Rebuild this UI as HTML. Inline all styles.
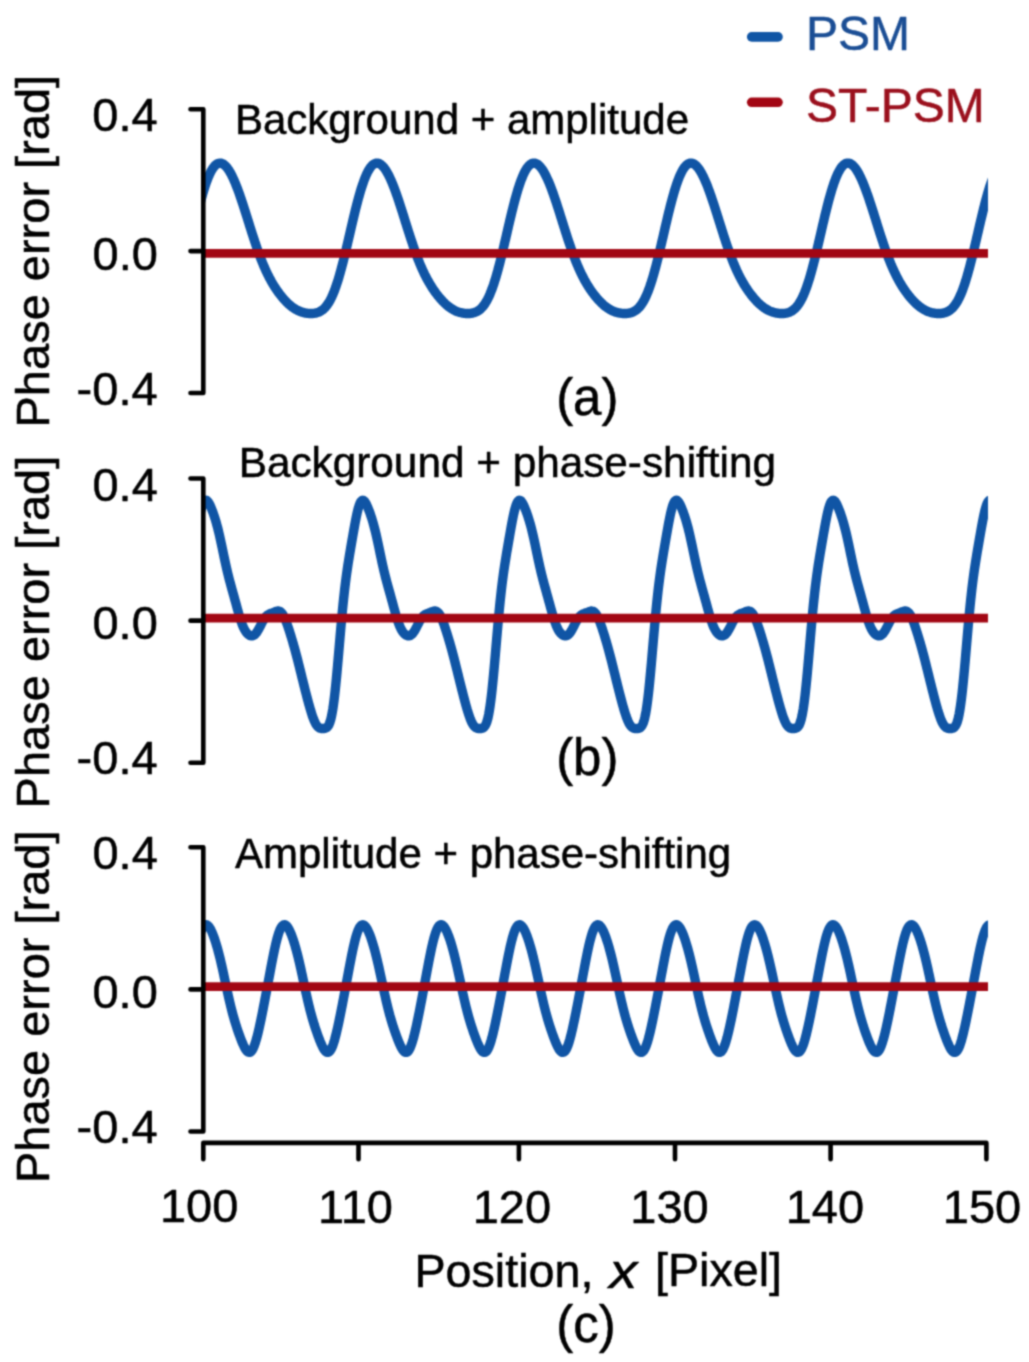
<!DOCTYPE html>
<html><head><meta charset="utf-8"><title>Phase error plot</title><style>
html,body{margin:0;padding:0;background:#fff;}
svg{display:block;}

text{font-family:'Liberation Sans',Arial,Helvetica,sans-serif;fill:#000;stroke:#000;stroke-width:0.5px;stroke-linejoin:round;}
</style></head><body>
<svg width="1029" height="1362" viewBox="0 0 1029 1362">
<rect width="1029" height="1362" fill="#fff"/>
<defs><clipPath id="clip"><rect x="203.3" y="0" width="784.7" height="1362"/></clipPath><filter id="soft" x="0" y="0" width="1029" height="1362" filterUnits="userSpaceOnUse" color-interpolation-filters="sRGB"><feConvolveMatrix order="5" kernelMatrix="0.00023 0.00332 0.00809 0.00332 0.00023 0.00332 0.04785 0.11640 0.04785 0.00332 0.00809 0.11640 0.28313 0.11640 0.00809 0.00332 0.04785 0.11640 0.04785 0.00332 0.00023 0.00332 0.00809 0.00332 0.00023" divisor="1" edgeMode="duplicate"/></filter></defs>
<g filter="url(#soft)">
<line x1="751.7" y1="36.9" x2="778" y2="36.9" stroke="#1055a5" stroke-width="9.6" stroke-linecap="round"/>
<line x1="751.7" y1="102.3" x2="778" y2="102.3" stroke="#a20613" stroke-width="9.6" stroke-linecap="round"/>
<path d="M196.0,220.1 L196.6,217.6 L197.2,215.1 L197.8,212.6 L198.4,210.2 L199.0,207.8 L199.6,205.4 L200.2,203.1 L200.8,200.8 L201.4,198.6 L202.0,196.4 L202.6,194.3 L203.2,192.2 L203.8,190.2 L204.4,188.3 L205.0,186.4 L205.6,184.6 L206.2,182.8 L206.8,181.1 L207.4,179.5 L208.0,178.0 L208.6,176.5 L209.2,175.2 L209.8,173.8 L210.4,172.6 L211.0,171.4 L211.6,170.4 L212.2,169.3 L212.8,168.4 L213.4,167.6 L214.0,166.8 L214.6,166.1 L215.2,165.4 L215.8,164.9 L216.4,164.4 L217.0,164.0 L217.6,163.7 L218.2,163.4 L218.8,163.3 L219.4,163.1 L220.0,163.1 L220.6,163.1 L221.2,163.2 L221.8,163.4 L222.4,163.7 L223.0,164.0 L223.6,164.3 L224.2,164.8 L224.8,165.3 L225.4,165.8 L226.0,166.5 L226.6,167.1 L227.2,167.9 L227.8,168.7 L228.4,169.5 L229.0,170.5 L229.6,171.4 L230.2,172.5 L230.8,173.5 L231.4,174.7 L232.0,175.9 L232.6,177.1 L233.2,178.4 L233.8,179.7 L234.4,181.1 L235.0,182.5 L235.6,183.9 L236.2,185.4 L236.8,187.0 L237.4,188.5 L238.0,190.1 L238.6,191.8 L239.2,193.4 L239.8,195.1 L240.4,196.9 L241.0,198.6 L241.6,200.4 L242.2,202.2 L242.8,204.0 L243.4,205.9 L244.0,207.7 L244.6,209.6 L245.2,211.5 L245.8,213.4 L246.4,215.3 L247.0,217.2 L247.6,219.1 L248.2,221.0 L248.8,222.9 L249.4,224.9 L250.0,226.8 L250.6,228.7 L251.2,230.6 L251.8,232.4 L252.4,234.3 L253.0,236.2 L253.6,238.0 L254.2,239.8 L254.8,241.7 L255.4,243.4 L256.0,245.2 L256.6,247.0 L257.2,248.7 L257.8,250.4 L258.4,252.1 L259.0,253.7 L259.6,255.3 L260.2,256.9 L260.8,258.5 L261.4,260.0 L262.0,261.5 L262.6,263.0 L263.2,264.4 L263.8,265.9 L264.4,267.3 L265.0,268.6 L265.6,270.0 L266.2,271.3 L266.8,272.5 L267.4,273.8 L268.0,275.0 L268.6,276.2 L269.2,277.4 L269.8,278.5 L270.4,279.6 L271.0,280.7 L271.6,281.8 L272.2,282.8 L272.8,283.8 L273.4,284.8 L274.0,285.8 L274.6,286.8 L275.2,287.7 L275.8,288.6 L276.4,289.5 L277.0,290.4 L277.6,291.2 L278.2,292.1 L278.8,292.9 L279.4,293.7 L280.0,294.5 L280.6,295.3 L281.2,296.0 L281.8,296.8 L282.4,297.5 L283.0,298.2 L283.6,298.9 L284.2,299.5 L284.8,300.2 L285.4,300.8 L286.0,301.5 L286.6,302.1 L287.2,302.7 L287.8,303.3 L288.4,303.8 L289.0,304.4 L289.6,304.9 L290.2,305.4 L290.8,305.9 L291.4,306.4 L292.0,306.8 L292.6,307.3 L293.2,307.7 L293.8,308.1 L294.4,308.5 L295.0,308.9 L295.6,309.3 L296.2,309.6 L296.8,309.9 L297.4,310.2 L298.0,310.5 L298.6,310.8 L299.2,311.1 L299.8,311.3 L300.4,311.6 L301.0,311.8 L301.6,312.0 L302.2,312.2 L302.8,312.4 L303.4,312.5 L304.0,312.7 L304.6,312.8 L305.2,313.0 L305.8,313.1 L306.4,313.2 L307.0,313.3 L307.6,313.3 L308.2,313.4 L308.8,313.4 L309.4,313.5 L310.0,313.5 L310.6,313.5 L311.2,313.5 L311.8,313.5 L312.4,313.5 L313.0,313.4 L313.6,313.4 L314.2,313.3 L314.8,313.2 L315.4,313.1 L316.0,313.0 L316.6,312.8 L317.2,312.6 L317.8,312.4 L318.4,312.2 L319.0,312.0 L319.6,311.7 L320.2,311.4 L320.8,311.0 L321.4,310.6 L322.0,310.2 L322.6,309.8 L323.2,309.3 L323.8,308.8 L324.4,308.2 L325.0,307.6 L325.6,306.9 L326.2,306.2 L326.8,305.4 L327.4,304.6 L328.0,303.7 L328.6,302.8 L329.2,301.8 L329.8,300.8 L330.4,299.7 L331.0,298.5 L331.6,297.3 L332.2,296.0 L332.8,294.6 L333.4,293.2 L334.0,291.7 L334.6,290.2 L335.2,288.5 L335.8,286.9 L336.4,285.1 L337.0,283.3 L337.6,281.5 L338.2,279.6 L338.8,277.6 L339.4,275.5 L340.0,273.4 L340.6,271.3 L341.2,269.1 L341.8,266.8 L342.4,264.5 L343.0,262.2 L343.6,259.8 L344.2,257.4 L344.8,255.0 L345.4,252.5 L346.0,250.0 L346.6,247.4 L347.2,244.9 L347.8,242.3 L348.4,239.7 L349.0,237.2 L349.6,234.6 L350.2,232.0 L350.8,229.4 L351.4,226.8 L352.0,224.2 L352.6,221.7 L353.2,219.1 L353.8,216.6 L354.4,214.1 L355.0,211.7 L355.6,209.2 L356.2,206.8 L356.8,204.5 L357.4,202.2 L358.0,199.9 L358.6,197.7 L359.2,195.6 L359.8,193.5 L360.4,191.4 L361.0,189.4 L361.6,187.5 L362.2,185.7 L362.8,183.9 L363.4,182.2 L364.0,180.5 L364.6,178.9 L365.2,177.4 L365.8,176.0 L366.4,174.6 L367.0,173.4 L367.6,172.1 L368.2,171.0 L368.8,170.0 L369.4,169.0 L370.0,168.1 L370.6,167.2 L371.2,166.5 L371.8,165.8 L372.4,165.2 L373.0,164.7 L373.6,164.3 L374.2,163.9 L374.8,163.6 L375.4,163.4 L376.0,163.2 L376.6,163.1 L377.2,163.1 L377.8,163.2 L378.4,163.3 L379.0,163.5 L379.6,163.8 L380.2,164.1 L380.8,164.5 L381.4,165.0 L382.0,165.5 L382.6,166.1 L383.2,166.7 L383.8,167.4 L384.4,168.2 L385.0,169.0 L385.6,169.9 L386.2,170.8 L386.8,171.8 L387.4,172.9 L388.0,174.0 L388.6,175.1 L389.2,176.3 L389.8,177.6 L390.4,178.9 L391.0,180.2 L391.6,181.6 L392.2,183.0 L392.8,184.5 L393.4,186.0 L394.0,187.5 L394.6,189.1 L395.2,190.8 L395.8,192.4 L396.4,194.1 L397.0,195.8 L397.6,197.5 L398.2,199.3 L398.8,201.1 L399.4,202.9 L400.0,204.7 L400.6,206.6 L401.2,208.4 L401.8,210.3 L402.4,212.2 L403.0,214.1 L403.6,216.0 L404.2,217.9 L404.8,219.8 L405.4,221.8 L406.0,223.7 L406.6,225.6 L407.2,227.5 L407.8,229.4 L408.4,231.3 L409.0,233.2 L409.6,235.0 L410.2,236.9 L410.8,238.7 L411.4,240.5 L412.0,242.3 L412.6,244.1 L413.2,245.9 L413.8,247.6 L414.4,249.3 L415.0,251.0 L415.6,252.7 L416.2,254.3 L416.8,255.9 L417.4,257.5 L418.0,259.1 L418.6,260.6 L419.2,262.1 L419.8,263.6 L420.4,265.0 L421.0,266.4 L421.6,267.8 L422.2,269.1 L422.8,270.5 L423.4,271.7 L424.0,273.0 L424.6,274.3 L425.2,275.5 L425.8,276.6 L426.4,277.8 L427.0,278.9 L427.6,280.0 L428.2,281.1 L428.8,282.2 L429.4,283.2 L430.0,284.2 L430.6,285.2 L431.2,286.2 L431.8,287.1 L432.4,288.0 L433.0,289.0 L433.6,289.8 L434.2,290.7 L434.8,291.6 L435.4,292.4 L436.0,293.2 L436.6,294.0 L437.2,294.8 L437.8,295.6 L438.4,296.3 L439.0,297.0 L439.6,297.7 L440.2,298.4 L440.8,299.1 L441.4,299.8 L442.0,300.4 L442.6,301.1 L443.2,301.7 L443.8,302.3 L444.4,302.9 L445.0,303.5 L445.6,304.0 L446.2,304.6 L446.8,305.1 L447.4,305.6 L448.0,306.1 L448.6,306.6 L449.2,307.0 L449.8,307.4 L450.4,307.9 L451.0,308.3 L451.6,308.7 L452.2,309.0 L452.8,309.4 L453.4,309.7 L454.0,310.1 L454.6,310.4 L455.2,310.7 L455.8,310.9 L456.4,311.2 L457.0,311.4 L457.6,311.7 L458.2,311.9 L458.8,312.1 L459.4,312.3 L460.0,312.4 L460.6,312.6 L461.2,312.7 L461.8,312.9 L462.4,313.0 L463.0,313.1 L463.6,313.2 L464.2,313.3 L464.8,313.4 L465.4,313.4 L466.0,313.5 L466.6,313.5 L467.2,313.5 L467.8,313.5 L468.4,313.5 L469.0,313.5 L469.6,313.5 L470.2,313.4 L470.8,313.3 L471.4,313.3 L472.0,313.2 L472.6,313.0 L473.2,312.9 L473.8,312.7 L474.4,312.6 L475.0,312.3 L475.6,312.1 L476.2,311.9 L476.8,311.6 L477.4,311.2 L478.0,310.9 L478.6,310.5 L479.2,310.1 L479.8,309.6 L480.4,309.1 L481.0,308.5 L481.6,308.0 L482.2,307.3 L482.8,306.6 L483.4,305.9 L484.0,305.1 L484.6,304.3 L485.2,303.4 L485.8,302.4 L486.4,301.4 L487.0,300.3 L487.6,299.2 L488.2,298.0 L488.8,296.8 L489.4,295.5 L490.0,294.1 L490.6,292.6 L491.2,291.1 L491.8,289.6 L492.4,287.9 L493.0,286.2 L493.6,284.5 L494.2,282.6 L494.8,280.7 L495.4,278.8 L496.0,276.8 L496.6,274.7 L497.2,272.6 L497.8,270.5 L498.4,268.2 L499.0,266.0 L499.6,263.7 L500.2,261.3 L500.8,258.9 L501.4,256.5 L502.0,254.0 L502.6,251.5 L503.2,249.0 L503.8,246.5 L504.4,243.9 L505.0,241.3 L505.6,238.8 L506.2,236.2 L506.8,233.6 L507.4,231.0 L508.0,228.4 L508.6,225.8 L509.2,223.2 L509.8,220.7 L510.4,218.2 L511.0,215.6 L511.6,213.2 L512.2,210.7 L512.8,208.3 L513.4,205.9 L514.0,203.6 L514.6,201.3 L515.2,199.1 L515.8,196.9 L516.4,194.8 L517.0,192.7 L517.6,190.7 L518.2,188.7 L518.8,186.8 L519.4,185.0 L520.0,183.2 L520.6,181.5 L521.2,179.9 L521.8,178.4 L522.4,176.9 L523.0,175.5 L523.6,174.1 L524.2,172.9 L524.8,171.7 L525.4,170.6 L526.0,169.6 L526.6,168.6 L527.2,167.7 L527.8,167.0 L528.4,166.2 L529.0,165.6 L529.6,165.0 L530.2,164.5 L530.8,164.1 L531.4,163.8 L532.0,163.5 L532.6,163.3 L533.2,163.2 L533.8,163.1 L534.4,163.1 L535.0,163.2 L535.6,163.4 L536.2,163.6 L536.8,163.9 L537.4,164.2 L538.0,164.7 L538.6,165.1 L539.2,165.7 L539.8,166.3 L540.4,167.0 L541.0,167.7 L541.6,168.5 L542.2,169.3 L542.8,170.2 L543.4,171.2 L544.0,172.2 L544.6,173.3 L545.2,174.4 L545.8,175.6 L546.4,176.8 L547.0,178.1 L547.6,179.4 L548.2,180.7 L548.8,182.1 L549.4,183.6 L550.0,185.1 L550.6,186.6 L551.2,188.2 L551.8,189.7 L552.4,191.4 L553.0,193.0 L553.6,194.7 L554.2,196.5 L554.8,198.2 L555.4,200.0 L556.0,201.8 L556.6,203.6 L557.2,205.4 L557.8,207.3 L558.4,209.2 L559.0,211.0 L559.6,212.9 L560.2,214.8 L560.8,216.8 L561.4,218.7 L562.0,220.6 L562.6,222.5 L563.2,224.4 L563.8,226.3 L564.4,228.2 L565.0,230.1 L565.6,232.0 L566.2,233.9 L566.8,235.7 L567.4,237.6 L568.0,239.4 L568.6,241.2 L569.2,243.0 L569.8,244.8 L570.4,246.6 L571.0,248.3 L571.6,250.0 L572.2,251.7 L572.8,253.3 L573.4,254.9 L574.0,256.5 L574.6,258.1 L575.2,259.7 L575.8,261.2 L576.4,262.7 L577.0,264.1 L577.6,265.5 L578.2,266.9 L578.8,268.3 L579.4,269.6 L580.0,271.0 L580.6,272.2 L581.2,273.5 L581.8,274.7 L582.4,275.9 L583.0,277.1 L583.6,278.2 L584.2,279.4 L584.8,280.5 L585.4,281.5 L586.0,282.6 L586.6,283.6 L587.2,284.6 L587.8,285.6 L588.4,286.5 L589.0,287.5 L589.6,288.4 L590.2,289.3 L590.8,290.2 L591.4,291.0 L592.0,291.9 L592.6,292.7 L593.2,293.5 L593.8,294.3 L594.4,295.1 L595.0,295.8 L595.6,296.6 L596.2,297.3 L596.8,298.0 L597.4,298.7 L598.0,299.4 L598.6,300.0 L599.2,300.7 L599.8,301.3 L600.4,301.9 L601.0,302.5 L601.6,303.1 L602.2,303.7 L602.8,304.2 L603.4,304.8 L604.0,305.3 L604.6,305.8 L605.2,306.3 L605.8,306.7 L606.4,307.2 L607.0,307.6 L607.6,308.0 L608.2,308.4 L608.8,308.8 L609.4,309.2 L610.0,309.5 L610.6,309.9 L611.2,310.2 L611.8,310.5 L612.4,310.8 L613.0,311.0 L613.6,311.3 L614.2,311.5 L614.8,311.7 L615.4,312.0 L616.0,312.2 L616.6,312.3 L617.2,312.5 L617.8,312.7 L618.4,312.8 L619.0,312.9 L619.6,313.0 L620.2,313.1 L620.8,313.2 L621.4,313.3 L622.0,313.4 L622.6,313.4 L623.2,313.5 L623.8,313.5 L624.4,313.5 L625.0,313.5 L625.6,313.5 L626.2,313.5 L626.8,313.4 L627.4,313.4 L628.0,313.3 L628.6,313.2 L629.2,313.1 L629.8,313.0 L630.4,312.8 L631.0,312.7 L631.6,312.5 L632.2,312.3 L632.8,312.0 L633.4,311.7 L634.0,311.4 L634.6,311.1 L635.2,310.7 L635.8,310.3 L636.4,309.9 L637.0,309.4 L637.6,308.9 L638.2,308.3 L638.8,307.7 L639.4,307.1 L640.0,306.4 L640.6,305.6 L641.2,304.8 L641.8,303.9 L642.4,303.0 L643.0,302.0 L643.6,301.0 L644.2,299.9 L644.8,298.8 L645.4,297.6 L646.0,296.3 L646.6,294.9 L647.2,293.5 L647.8,292.1 L648.4,290.5 L649.0,288.9 L649.6,287.3 L650.2,285.5 L650.8,283.8 L651.4,281.9 L652.0,280.0 L652.6,278.0 L653.2,276.0 L653.8,273.9 L654.4,271.8 L655.0,269.6 L655.6,267.4 L656.2,265.1 L656.8,262.8 L657.4,260.4 L658.0,258.0 L658.6,255.5 L659.2,253.1 L659.8,250.6 L660.4,248.0 L661.0,245.5 L661.6,242.9 L662.2,240.3 L662.8,237.8 L663.4,235.2 L664.0,232.6 L664.6,230.0 L665.2,227.4 L665.8,224.8 L666.4,222.3 L667.0,219.7 L667.6,217.2 L668.2,214.7 L668.8,212.2 L669.4,209.8 L670.0,207.4 L670.6,205.0 L671.2,202.7 L671.8,200.5 L672.4,198.2 L673.0,196.1 L673.6,194.0 L674.2,191.9 L674.8,189.9 L675.4,188.0 L676.0,186.1 L676.6,184.3 L677.2,182.6 L677.8,180.9 L678.4,179.3 L679.0,177.8 L679.6,176.3 L680.2,175.0 L680.8,173.7 L681.4,172.4 L682.0,171.3 L682.6,170.2 L683.2,169.2 L683.8,168.3 L684.4,167.4 L685.0,166.7 L685.6,166.0 L686.2,165.4 L686.8,164.8 L687.4,164.4 L688.0,164.0 L688.6,163.6 L689.2,163.4 L689.8,163.2 L690.4,163.1 L691.0,163.1 L691.6,163.2 L692.2,163.3 L692.8,163.4 L693.4,163.7 L694.0,164.0 L694.6,164.4 L695.2,164.8 L695.8,165.3 L696.4,165.9 L697.0,166.6 L697.6,167.2 L698.2,168.0 L698.8,168.8 L699.4,169.7 L700.0,170.6 L700.6,171.6 L701.2,172.6 L701.8,173.7 L702.4,174.9 L703.0,176.0 L703.6,177.3 L704.2,178.6 L704.8,179.9 L705.4,181.3 L706.0,182.7 L706.6,184.1 L707.2,185.6 L707.8,187.2 L708.4,188.8 L709.0,190.4 L709.6,192.0 L710.2,193.7 L710.8,195.4 L711.4,197.1 L712.0,198.9 L712.6,200.7 L713.2,202.5 L713.8,204.3 L714.4,206.2 L715.0,208.0 L715.6,209.9 L716.2,211.8 L716.8,213.7 L717.4,215.6 L718.0,217.5 L718.6,219.4 L719.2,221.3 L719.8,223.2 L720.4,225.1 L721.0,227.0 L721.6,228.9 L722.2,230.8 L722.8,232.7 L723.4,234.6 L724.0,236.5 L724.6,238.3 L725.2,240.1 L725.8,241.9 L726.4,243.7 L727.0,245.5 L727.6,247.2 L728.2,248.9 L728.8,250.6 L729.4,252.3 L730.0,253.9 L730.6,255.6 L731.2,257.1 L731.8,258.7 L732.4,260.2 L733.0,261.7 L733.6,263.2 L734.2,264.7 L734.8,266.1 L735.4,267.5 L736.0,268.8 L736.6,270.2 L737.2,271.5 L737.8,272.7 L738.4,274.0 L739.0,275.2 L739.6,276.4 L740.2,277.5 L740.8,278.7 L741.4,279.8 L742.0,280.9 L742.6,281.9 L743.2,283.0 L743.8,284.0 L744.4,285.0 L745.0,286.0 L745.6,286.9 L746.2,287.8 L746.8,288.7 L747.4,289.6 L748.0,290.5 L748.6,291.4 L749.2,292.2 L749.8,293.0 L750.4,293.8 L751.0,294.6 L751.6,295.4 L752.2,296.1 L752.8,296.9 L753.4,297.6 L754.0,298.3 L754.6,299.0 L755.2,299.6 L755.8,300.3 L756.4,300.9 L757.0,301.6 L757.6,302.2 L758.2,302.8 L758.8,303.3 L759.4,303.9 L760.0,304.4 L760.6,305.0 L761.2,305.5 L761.8,306.0 L762.4,306.4 L763.0,306.9 L763.6,307.3 L764.2,307.8 L764.8,308.2 L765.4,308.6 L766.0,309.0 L766.6,309.3 L767.2,309.7 L767.8,310.0 L768.4,310.3 L769.0,310.6 L769.6,310.9 L770.2,311.1 L770.8,311.4 L771.4,311.6 L772.0,311.8 L772.6,312.0 L773.2,312.2 L773.8,312.4 L774.4,312.6 L775.0,312.7 L775.6,312.8 L776.2,313.0 L776.8,313.1 L777.4,313.2 L778.0,313.3 L778.6,313.3 L779.2,313.4 L779.8,313.5 L780.4,313.5 L781.0,313.5 L781.6,313.5 L782.2,313.5 L782.8,313.5 L783.4,313.5 L784.0,313.4 L784.6,313.4 L785.2,313.3 L785.8,313.2 L786.4,313.1 L787.0,312.9 L787.6,312.8 L788.2,312.6 L788.8,312.4 L789.4,312.2 L790.0,311.9 L790.6,311.6 L791.2,311.3 L791.8,311.0 L792.4,310.6 L793.0,310.2 L793.6,309.7 L794.2,309.2 L794.8,308.7 L795.4,308.1 L796.0,307.5 L796.6,306.8 L797.2,306.1 L797.8,305.3 L798.4,304.5 L799.0,303.6 L799.6,302.7 L800.2,301.7 L800.8,300.6 L801.4,299.5 L802.0,298.3 L802.6,297.1 L803.2,295.8 L803.8,294.4 L804.4,293.0 L805.0,291.5 L805.6,289.9 L806.2,288.3 L806.8,286.6 L807.4,284.9 L808.0,283.1 L808.6,281.2 L809.2,279.3 L809.8,277.3 L810.4,275.2 L811.0,273.1 L811.6,271.0 L812.2,268.8 L812.8,266.5 L813.4,264.2 L814.0,261.9 L814.6,259.5 L815.2,257.1 L815.8,254.6 L816.4,252.1 L817.0,249.6 L817.6,247.1 L818.2,244.5 L818.8,241.9 L819.4,239.4 L820.0,236.8 L820.6,234.2 L821.2,231.6 L821.8,229.0 L822.4,226.4 L823.0,223.8 L823.6,221.3 L824.2,218.7 L824.8,216.2 L825.4,213.7 L826.0,211.3 L826.6,208.9 L827.2,206.5 L827.8,204.1 L828.4,201.8 L829.0,199.6 L829.6,197.4 L830.2,195.3 L830.8,193.2 L831.4,191.1 L832.0,189.2 L832.6,187.2 L833.2,185.4 L833.8,183.6 L834.4,181.9 L835.0,180.3 L835.6,178.7 L836.2,177.2 L836.8,175.8 L837.4,174.4 L838.0,173.2 L838.6,172.0 L839.2,170.9 L839.8,169.8 L840.4,168.8 L841.0,167.9 L841.6,167.1 L842.2,166.4 L842.8,165.7 L843.4,165.1 L844.0,164.6 L844.6,164.2 L845.2,163.8 L845.8,163.5 L846.4,163.3 L847.0,163.2 L847.6,163.1 L848.2,163.1 L848.8,163.2 L849.4,163.3 L850.0,163.5 L850.6,163.8 L851.2,164.1 L851.8,164.6 L852.4,165.0 L853.0,165.6 L853.6,166.2 L854.2,166.8 L854.8,167.5 L855.4,168.3 L856.0,169.1 L856.6,170.0 L857.2,171.0 L857.8,172.0 L858.4,173.0 L859.0,174.1 L859.6,175.3 L860.2,176.5 L860.8,177.8 L861.4,179.1 L862.0,180.4 L862.6,181.8 L863.2,183.2 L863.8,184.7 L864.4,186.2 L865.0,187.8 L865.6,189.4 L866.2,191.0 L866.8,192.7 L867.4,194.3 L868.0,196.1 L868.6,197.8 L869.2,199.6 L869.8,201.4 L870.4,203.2 L871.0,205.0 L871.6,206.9 L872.2,208.7 L872.8,210.6 L873.4,212.5 L874.0,214.4 L874.6,216.3 L875.2,218.2 L875.8,220.1 L876.4,222.0 L877.0,224.0 L877.6,225.9 L878.2,227.8 L878.8,229.7 L879.4,231.6 L880.0,233.4 L880.6,235.3 L881.2,237.2 L881.8,239.0 L882.4,240.8 L883.0,242.6 L883.6,244.4 L884.2,246.1 L884.8,247.9 L885.4,249.6 L886.0,251.3 L886.6,252.9 L887.2,254.6 L887.8,256.2 L888.4,257.8 L889.0,259.3 L889.6,260.8 L890.2,262.3 L890.8,263.8 L891.4,265.2 L892.0,266.6 L892.6,268.0 L893.2,269.3 L893.8,270.7 L894.4,271.9 L895.0,273.2 L895.6,274.4 L896.2,275.6 L896.8,276.8 L897.4,278.0 L898.0,279.1 L898.6,280.2 L899.2,281.3 L899.8,282.3 L900.4,283.4 L901.0,284.4 L901.6,285.4 L902.2,286.3 L902.8,287.3 L903.4,288.2 L904.0,289.1 L904.6,290.0 L905.2,290.8 L905.8,291.7 L906.4,292.5 L907.0,293.3 L907.6,294.1 L908.2,294.9 L908.8,295.7 L909.4,296.4 L910.0,297.1 L910.6,297.9 L911.2,298.5 L911.8,299.2 L912.4,299.9 L913.0,300.5 L913.6,301.2 L914.2,301.8 L914.8,302.4 L915.4,303.0 L916.0,303.6 L916.6,304.1 L917.2,304.6 L917.8,305.2 L918.4,305.7 L919.0,306.2 L919.6,306.6 L920.2,307.1 L920.8,307.5 L921.4,307.9 L922.0,308.3 L922.6,308.7 L923.2,309.1 L923.8,309.4 L924.4,309.8 L925.0,310.1 L925.6,310.4 L926.2,310.7 L926.8,311.0 L927.4,311.2 L928.0,311.5 L928.6,311.7 L929.2,311.9 L929.8,312.1 L930.4,312.3 L931.0,312.5 L931.6,312.6 L932.2,312.8 L932.8,312.9 L933.4,313.0 L934.0,313.1 L934.6,313.2 L935.2,313.3 L935.8,313.4 L936.4,313.4 L937.0,313.5 L937.6,313.5 L938.2,313.5 L938.8,313.5 L939.4,313.5 L940.0,313.5 L940.6,313.5 L941.2,313.4 L941.8,313.3 L942.4,313.3 L943.0,313.1 L943.6,313.0 L944.2,312.9 L944.8,312.7 L945.4,312.5 L946.0,312.3 L946.6,312.1 L947.2,311.8 L947.8,311.5 L948.4,311.2 L949.0,310.8 L949.6,310.4 L950.2,310.0 L950.8,309.5 L951.4,309.0 L952.0,308.5 L952.6,307.9 L953.2,307.2 L953.8,306.5 L954.4,305.8 L955.0,305.0 L955.6,304.1 L956.2,303.2 L956.8,302.3 L957.4,301.3 L958.0,300.2 L958.6,299.0 L959.2,297.8 L959.8,296.6 L960.4,295.3 L961.0,293.9 L961.6,292.4 L962.2,290.9 L962.8,289.3 L963.4,287.7 L964.0,286.0 L964.6,284.2 L965.2,282.3 L965.8,280.5 L966.4,278.5 L967.0,276.5 L967.6,274.4 L968.2,272.3 L968.8,270.1 L969.4,267.9 L970.0,265.6 L970.6,263.3 L971.2,260.9 L971.8,258.5 L972.4,256.1 L973.0,253.6 L973.6,251.2 L974.2,248.6 L974.8,246.1 L975.4,243.5 L976.0,241.0 L976.6,238.4 L977.2,235.8 L977.8,233.2 L978.4,230.6 L979.0,228.0 L979.6,225.4 L980.2,222.9 L980.8,220.3 L981.4,217.8 L982.0,215.3 L982.6,212.8 L983.2,210.4 L983.8,207.9 L984.4,205.6 L985.0,203.3 L985.6,201.0 L986.2,198.7 L986.8,196.6 L987.4,194.4 L988.0,192.4 L988.6,190.4 L989.2,188.4 L989.8,186.5 L990.4,184.7 L991.0,183.0 L991.6,181.3 L992.2,179.7 L992.8,178.1 L993.4,176.7 L994.0,175.3 L994.6,173.9 L995.2,172.7 L995.8,171.5 L996.0,171.2" fill="none" stroke="#1055a5" stroke-width="9.4" stroke-linejoin="round" clip-path="url(#clip)"/>
<line x1="203.3" y1="253.3" x2="988" y2="253.3" stroke="#a20613" stroke-width="8.8"/>
<path d="M190.5,109.2 L203.3,109.2 L203.3,393.0 L190.5,393.0 M190.5,251.10 L203.3,251.10" fill="none" stroke="#000" stroke-width="4.6" stroke-linejoin="round" stroke-linecap="round"/>
<path d="M196.0,535.8 L196.6,532.4 L197.2,529.0 L197.8,525.7 L198.4,522.4 L199.0,519.3 L199.6,516.4 L200.2,513.6 L200.8,511.0 L201.4,508.7 L202.0,506.6 L202.6,504.8 L203.2,503.3 L203.8,502.1 L204.4,501.2 L205.0,500.6 L205.6,500.3 L206.2,500.3 L206.8,500.5 L207.4,501.0 L208.0,501.7 L208.6,502.6 L209.2,503.6 L209.8,504.7 L210.4,506.0 L211.0,507.4 L211.6,508.9 L212.2,510.4 L212.8,512.0 L213.4,513.7 L214.0,515.5 L214.6,517.3 L215.2,519.2 L215.8,521.2 L216.4,523.2 L217.0,525.4 L217.6,527.6 L218.2,530.0 L218.8,532.5 L219.4,535.0 L220.0,537.7 L220.6,540.4 L221.2,543.2 L221.8,546.0 L222.4,548.9 L223.0,551.7 L223.6,554.6 L224.2,557.5 L224.8,560.3 L225.4,563.1 L226.0,565.8 L226.6,568.4 L227.2,571.0 L227.8,573.5 L228.4,575.9 L229.0,578.3 L229.6,580.6 L230.2,582.8 L230.8,585.0 L231.4,587.2 L232.0,589.4 L232.6,591.5 L233.2,593.7 L233.8,595.8 L234.4,598.0 L235.0,600.2 L235.6,602.3 L236.2,604.5 L236.8,606.7 L237.4,608.9 L238.0,611.1 L238.6,613.2 L239.2,615.3 L239.8,617.3 L240.4,619.2 L241.0,621.0 L241.6,622.7 L242.2,624.4 L242.8,625.9 L243.4,627.3 L244.0,628.5 L244.6,629.7 L245.2,630.7 L245.8,631.7 L246.4,632.5 L247.0,633.2 L247.6,633.8 L248.2,634.4 L248.8,634.8 L249.4,635.2 L250.0,635.5 L250.6,635.7 L251.2,635.8 L251.8,635.8 L252.4,635.8 L253.0,635.6 L253.6,635.4 L254.2,635.0 L254.8,634.6 L255.4,634.0 L256.0,633.3 L256.6,632.6 L257.2,631.7 L257.8,630.7 L258.4,629.7 L259.0,628.6 L259.6,627.5 L260.2,626.3 L260.8,625.1 L261.4,623.9 L262.0,622.7 L262.6,621.6 L263.2,620.5 L263.8,619.5 L264.4,618.5 L265.0,617.7 L265.6,616.9 L266.2,616.3 L266.8,615.7 L267.4,615.2 L268.0,614.8 L268.6,614.4 L269.2,614.1 L269.8,613.8 L270.4,613.6 L271.0,613.3 L271.6,613.1 L272.2,612.9 L272.8,612.7 L273.4,612.4 L274.0,612.2 L274.6,612.0 L275.2,611.7 L275.8,611.5 L276.4,611.3 L277.0,611.2 L277.6,611.1 L278.2,611.0 L278.8,611.1 L279.4,611.3 L280.0,611.5 L280.6,611.9 L281.2,612.5 L281.8,613.1 L282.4,613.9 L283.0,614.8 L283.6,615.9 L284.2,617.0 L284.8,618.3 L285.4,619.7 L286.0,621.2 L286.6,622.8 L287.2,624.5 L287.8,626.2 L288.4,628.0 L289.0,629.8 L289.6,631.7 L290.2,633.6 L290.8,635.5 L291.4,637.5 L292.0,639.5 L292.6,641.5 L293.2,643.6 L293.8,645.7 L294.4,647.8 L295.0,650.0 L295.6,652.2 L296.2,654.4 L296.8,656.7 L297.4,659.0 L298.0,661.4 L298.6,663.8 L299.2,666.2 L299.8,668.6 L300.4,671.0 L301.0,673.4 L301.6,675.9 L302.2,678.3 L302.8,680.7 L303.4,683.1 L304.0,685.5 L304.6,687.9 L305.2,690.3 L305.8,692.6 L306.4,694.9 L307.0,697.2 L307.6,699.5 L308.2,701.7 L308.8,703.9 L309.4,706.1 L310.0,708.2 L310.6,710.2 L311.2,712.2 L311.8,714.1 L312.4,715.9 L313.0,717.6 L313.6,719.2 L314.2,720.6 L314.8,722.0 L315.4,723.2 L316.0,724.3 L316.6,725.2 L317.2,726.0 L317.8,726.7 L318.4,727.2 L319.0,727.6 L319.6,728.0 L320.2,728.2 L320.8,728.4 L321.4,728.5 L322.0,728.5 L322.6,728.6 L323.2,728.6 L323.8,728.5 L324.4,728.4 L325.0,728.3 L325.6,728.1 L326.2,727.9 L326.8,727.5 L327.4,726.9 L328.0,726.2 L328.6,725.3 L329.2,724.1 L329.8,722.6 L330.4,720.7 L331.0,718.5 L331.6,715.8 L332.2,712.7 L332.8,709.2 L333.4,705.1 L334.0,700.6 L334.6,695.7 L335.2,690.3 L335.8,684.6 L336.4,678.5 L337.0,672.0 L337.6,665.4 L338.2,658.5 L338.8,651.6 L339.4,644.6 L340.0,637.6 L340.6,630.6 L341.2,623.9 L341.8,617.3 L342.4,610.9 L343.0,604.8 L343.6,598.9 L344.2,593.4 L344.8,588.1 L345.4,583.2 L346.0,578.5 L346.6,574.0 L347.2,569.8 L347.8,565.8 L348.4,561.9 L349.0,558.2 L349.6,554.5 L350.2,550.9 L350.8,547.4 L351.4,543.9 L352.0,540.4 L352.6,537.0 L353.2,533.5 L353.8,530.1 L354.4,526.8 L355.0,523.5 L355.6,520.4 L356.2,517.3 L356.8,514.5 L357.4,511.8 L358.0,509.4 L358.6,507.3 L359.2,505.4 L359.8,503.8 L360.4,502.5 L361.0,501.5 L361.6,500.8 L362.2,500.4 L362.8,500.3 L363.4,500.4 L364.0,500.8 L364.6,501.4 L365.2,502.3 L365.8,503.2 L366.4,504.3 L367.0,505.6 L367.6,506.9 L368.2,508.4 L368.8,509.9 L369.4,511.5 L370.0,513.1 L370.6,514.9 L371.2,516.7 L371.8,518.5 L372.4,520.5 L373.0,522.5 L373.6,524.7 L374.2,526.9 L374.8,529.2 L375.4,531.6 L376.0,534.1 L376.6,536.8 L377.2,539.5 L377.8,542.2 L378.4,545.0 L379.0,547.9 L379.6,550.8 L380.2,553.7 L380.8,556.5 L381.4,559.4 L382.0,562.2 L382.6,564.9 L383.2,567.6 L383.8,570.2 L384.4,572.7 L385.0,575.1 L385.6,577.5 L386.2,579.8 L386.8,582.1 L387.4,584.3 L388.0,586.5 L388.6,588.6 L389.2,590.8 L389.8,592.9 L390.4,595.1 L391.0,597.2 L391.6,599.4 L392.2,601.6 L392.8,603.8 L393.4,606.0 L394.0,608.2 L394.6,610.3 L395.2,612.5 L395.8,614.6 L396.4,616.6 L397.0,618.5 L397.6,620.4 L398.2,622.2 L398.8,623.8 L399.4,625.4 L400.0,626.8 L400.6,628.1 L401.2,629.3 L401.8,630.4 L402.4,631.4 L403.0,632.2 L403.6,633.0 L404.2,633.6 L404.8,634.2 L405.4,634.7 L406.0,635.1 L406.6,635.4 L407.2,635.6 L407.8,635.8 L408.4,635.8 L409.0,635.8 L409.6,635.7 L410.2,635.5 L410.8,635.1 L411.4,634.7 L412.0,634.2 L412.6,633.6 L413.2,632.8 L413.8,632.0 L414.4,631.1 L415.0,630.1 L415.6,629.0 L416.2,627.8 L416.8,626.7 L417.4,625.5 L418.0,624.3 L418.6,623.1 L419.2,621.9 L419.8,620.8 L420.4,619.8 L421.0,618.9 L421.6,618.0 L422.2,617.2 L422.8,616.5 L423.4,615.9 L424.0,615.3 L424.6,614.9 L425.2,614.5 L425.8,614.2 L426.4,613.9 L427.0,613.6 L427.6,613.4 L428.2,613.2 L428.8,613.0 L429.4,612.7 L430.0,612.5 L430.6,612.3 L431.2,612.0 L431.8,611.8 L432.4,611.6 L433.0,611.4 L433.6,611.2 L434.2,611.1 L434.8,611.0 L435.4,611.1 L436.0,611.2 L436.6,611.4 L437.2,611.8 L437.8,612.3 L438.4,612.9 L439.0,613.6 L439.6,614.5 L440.2,615.5 L440.8,616.6 L441.4,617.9 L442.0,619.3 L442.6,620.7 L443.2,622.3 L443.8,623.9 L444.4,625.6 L445.0,627.4 L445.6,629.2 L446.2,631.1 L446.8,633.0 L447.4,634.9 L448.0,636.8 L448.6,638.8 L449.2,640.8 L449.8,642.9 L450.4,645.0 L451.0,647.1 L451.6,649.3 L452.2,651.5 L452.8,653.7 L453.4,656.0 L454.0,658.3 L454.6,660.6 L455.2,663.0 L455.8,665.4 L456.4,667.8 L457.0,670.2 L457.6,672.6 L458.2,675.0 L458.8,677.5 L459.4,679.9 L460.0,682.3 L460.6,684.7 L461.2,687.1 L461.8,689.5 L462.4,691.8 L463.0,694.2 L463.6,696.5 L464.2,698.8 L464.8,701.0 L465.4,703.2 L466.0,705.4 L466.6,707.5 L467.2,709.6 L467.8,711.5 L468.4,713.5 L469.0,715.3 L469.6,717.0 L470.2,718.7 L470.8,720.2 L471.4,721.6 L472.0,722.8 L472.6,723.9 L473.2,724.9 L473.8,725.7 L474.4,726.4 L475.0,727.0 L475.6,727.5 L476.2,727.9 L476.8,728.1 L477.4,728.3 L478.0,728.4 L478.6,728.5 L479.2,728.6 L479.8,728.6 L480.4,728.5 L481.0,728.5 L481.6,728.4 L482.2,728.2 L482.8,728.0 L483.4,727.6 L484.0,727.1 L484.6,726.5 L485.2,725.6 L485.8,724.5 L486.4,723.1 L487.0,721.4 L487.6,719.3 L488.2,716.8 L488.8,713.8 L489.4,710.4 L490.0,706.5 L490.6,702.2 L491.2,697.4 L491.8,692.2 L492.4,686.5 L493.0,680.5 L493.6,674.2 L494.2,667.6 L494.8,660.8 L495.4,653.9 L496.0,646.9 L496.6,639.9 L497.2,632.9 L497.8,626.1 L498.4,619.4 L499.0,613.0 L499.6,606.8 L500.2,600.8 L500.8,595.2 L501.4,589.8 L502.0,584.8 L502.6,580.0 L503.2,575.5 L503.8,571.2 L504.4,567.1 L505.0,563.2 L505.6,559.4 L506.2,555.7 L506.8,552.1 L507.4,548.6 L508.0,545.1 L508.6,541.6 L509.2,538.1 L509.8,534.7 L510.4,531.2 L511.0,527.9 L511.6,524.6 L512.2,521.4 L512.8,518.3 L513.4,515.4 L514.0,512.7 L514.6,510.2 L515.2,508.0 L515.8,506.0 L516.4,504.3 L517.0,502.9 L517.6,501.8 L518.2,501.0 L518.8,500.5 L519.4,500.3 L520.0,500.4 L520.6,500.7 L521.2,501.2 L521.8,502.0 L522.4,502.9 L523.0,504.0 L523.6,505.2 L524.2,506.5 L524.8,507.9 L525.4,509.4 L526.0,510.9 L526.6,512.6 L527.2,514.3 L527.8,516.1 L528.4,517.9 L529.0,519.8 L529.6,521.8 L530.2,523.9 L530.8,526.1 L531.4,528.4 L532.0,530.8 L532.6,533.3 L533.2,535.9 L533.8,538.5 L534.4,541.3 L535.0,544.1 L535.6,546.9 L536.2,549.8 L536.8,552.7 L537.4,555.6 L538.0,558.4 L538.6,561.2 L539.2,564.0 L539.8,566.7 L540.4,569.3 L541.0,571.9 L541.6,574.3 L542.2,576.7 L542.8,579.1 L543.4,581.3 L544.0,583.6 L544.6,585.8 L545.2,587.9 L545.8,590.1 L546.4,592.2 L547.0,594.4 L547.6,596.5 L548.2,598.7 L548.8,600.9 L549.4,603.1 L550.0,605.3 L550.6,607.5 L551.2,609.6 L551.8,611.8 L552.4,613.9 L553.0,615.9 L553.6,617.9 L554.2,619.8 L554.8,621.6 L555.4,623.3 L556.0,624.9 L556.6,626.4 L557.2,627.7 L557.8,628.9 L558.4,630.1 L559.0,631.1 L559.6,631.9 L560.2,632.7 L560.8,633.4 L561.4,634.0 L562.0,634.5 L562.6,634.9 L563.2,635.3 L563.8,635.5 L564.4,635.7 L565.0,635.8 L565.6,635.8 L566.2,635.7 L566.8,635.5 L567.4,635.3 L568.0,634.9 L568.6,634.4 L569.2,633.8 L569.8,633.1 L570.4,632.3 L571.0,631.4 L571.6,630.4 L572.2,629.3 L572.8,628.2 L573.4,627.1 L574.0,625.9 L574.6,624.7 L575.2,623.5 L575.8,622.3 L576.4,621.2 L577.0,620.1 L577.6,619.2 L578.2,618.3 L578.8,617.4 L579.4,616.7 L580.0,616.1 L580.6,615.5 L581.2,615.0 L581.8,614.6 L582.4,614.3 L583.0,614.0 L583.6,613.7 L584.2,613.5 L584.8,613.3 L585.4,613.0 L586.0,612.8 L586.6,612.6 L587.2,612.4 L587.8,612.1 L588.4,611.9 L589.0,611.6 L589.6,611.4 L590.2,611.3 L590.8,611.1 L591.4,611.0 L592.0,611.1 L592.6,611.1 L593.2,611.3 L593.8,611.7 L594.4,612.1 L595.0,612.7 L595.6,613.4 L596.2,614.2 L596.8,615.2 L597.4,616.3 L598.0,617.5 L598.6,618.8 L599.2,620.2 L599.8,621.8 L600.4,623.4 L601.0,625.1 L601.6,626.8 L602.2,628.6 L602.8,630.4 L603.4,632.3 L604.0,634.2 L604.6,636.2 L605.2,638.2 L605.8,640.2 L606.4,642.2 L607.0,644.3 L607.6,646.4 L608.2,648.5 L608.8,650.7 L609.4,652.9 L610.0,655.2 L610.6,657.5 L611.2,659.8 L611.8,662.2 L612.4,664.6 L613.0,667.0 L613.6,669.4 L614.2,671.8 L614.8,674.2 L615.4,676.7 L616.0,679.1 L616.6,681.5 L617.2,683.9 L617.8,686.3 L618.4,688.7 L619.0,691.1 L619.6,693.4 L620.2,695.7 L620.8,698.0 L621.4,700.3 L622.0,702.5 L622.6,704.7 L623.2,706.8 L623.8,708.9 L624.4,710.9 L625.0,712.8 L625.6,714.7 L626.2,716.5 L626.8,718.1 L627.4,719.7 L628.0,721.1 L628.6,722.4 L629.2,723.6 L629.8,724.6 L630.4,725.5 L631.0,726.2 L631.6,726.8 L632.2,727.3 L632.8,727.7 L633.4,728.0 L634.0,728.3 L634.6,728.4 L635.2,728.5 L635.8,728.6 L636.4,728.6 L637.0,728.6 L637.6,728.5 L638.2,728.4 L638.8,728.3 L639.4,728.1 L640.0,727.8 L640.6,727.3 L641.2,726.7 L641.8,725.9 L642.4,724.9 L643.0,723.6 L643.6,722.0 L644.2,720.0 L644.8,717.6 L645.4,714.8 L646.0,711.6 L646.6,707.9 L647.2,703.7 L647.8,699.0 L648.4,694.0 L649.0,688.5 L649.6,682.6 L650.2,676.3 L650.8,669.8 L651.4,663.1 L652.0,656.2 L652.6,649.2 L653.2,642.2 L653.8,635.2 L654.4,628.4 L655.0,621.6 L655.6,615.1 L656.2,608.8 L656.8,602.8 L657.4,597.0 L658.0,591.6 L658.6,586.4 L659.2,581.6 L659.8,577.0 L660.4,572.6 L661.0,568.4 L661.6,564.5 L662.2,560.6 L662.8,556.9 L663.4,553.3 L664.0,549.8 L664.6,546.2 L665.2,542.7 L665.8,539.3 L666.4,535.8 L667.0,532.4 L667.6,529.0 L668.2,525.7 L668.8,522.4 L669.4,519.3 L670.0,516.4 L670.6,513.6 L671.2,511.0 L671.8,508.7 L672.4,506.6 L673.0,504.8 L673.6,503.3 L674.2,502.1 L674.8,501.2 L675.4,500.6 L676.0,500.3 L676.6,500.3 L677.2,500.5 L677.8,501.0 L678.4,501.7 L679.0,502.6 L679.6,503.6 L680.2,504.7 L680.8,506.0 L681.4,507.4 L682.0,508.9 L682.6,510.4 L683.2,512.0 L683.8,513.7 L684.4,515.5 L685.0,517.3 L685.6,519.2 L686.2,521.2 L686.8,523.2 L687.4,525.4 L688.0,527.6 L688.6,530.0 L689.2,532.5 L689.8,535.0 L690.4,537.7 L691.0,540.4 L691.6,543.2 L692.2,546.0 L692.8,548.9 L693.4,551.7 L694.0,554.6 L694.6,557.5 L695.2,560.3 L695.8,563.1 L696.4,565.8 L697.0,568.4 L697.6,571.0 L698.2,573.5 L698.8,575.9 L699.4,578.3 L700.0,580.6 L700.6,582.8 L701.2,585.0 L701.8,587.2 L702.4,589.4 L703.0,591.5 L703.6,593.7 L704.2,595.8 L704.8,598.0 L705.4,600.2 L706.0,602.3 L706.6,604.5 L707.2,606.7 L707.8,608.9 L708.4,611.1 L709.0,613.2 L709.6,615.3 L710.2,617.3 L710.8,619.2 L711.4,621.0 L712.0,622.7 L712.6,624.4 L713.2,625.9 L713.8,627.3 L714.4,628.5 L715.0,629.7 L715.6,630.7 L716.2,631.7 L716.8,632.5 L717.4,633.2 L718.0,633.8 L718.6,634.4 L719.2,634.8 L719.8,635.2 L720.4,635.5 L721.0,635.7 L721.6,635.8 L722.2,635.8 L722.8,635.8 L723.4,635.6 L724.0,635.4 L724.6,635.0 L725.2,634.6 L725.8,634.0 L726.4,633.3 L727.0,632.6 L727.6,631.7 L728.2,630.7 L728.8,629.7 L729.4,628.6 L730.0,627.5 L730.6,626.3 L731.2,625.1 L731.8,623.9 L732.4,622.7 L733.0,621.6 L733.6,620.5 L734.2,619.5 L734.8,618.5 L735.4,617.7 L736.0,616.9 L736.6,616.3 L737.2,615.7 L737.8,615.2 L738.4,614.8 L739.0,614.4 L739.6,614.1 L740.2,613.8 L740.8,613.6 L741.4,613.3 L742.0,613.1 L742.6,612.9 L743.2,612.7 L743.8,612.4 L744.4,612.2 L745.0,612.0 L745.6,611.7 L746.2,611.5 L746.8,611.3 L747.4,611.2 L748.0,611.1 L748.6,611.0 L749.2,611.1 L749.8,611.3 L750.4,611.5 L751.0,611.9 L751.6,612.5 L752.2,613.1 L752.8,613.9 L753.4,614.8 L754.0,615.9 L754.6,617.0 L755.2,618.3 L755.8,619.7 L756.4,621.2 L757.0,622.8 L757.6,624.5 L758.2,626.2 L758.8,628.0 L759.4,629.8 L760.0,631.7 L760.6,633.6 L761.2,635.5 L761.8,637.5 L762.4,639.5 L763.0,641.5 L763.6,643.6 L764.2,645.7 L764.8,647.8 L765.4,650.0 L766.0,652.2 L766.6,654.4 L767.2,656.7 L767.8,659.0 L768.4,661.4 L769.0,663.8 L769.6,666.2 L770.2,668.6 L770.8,671.0 L771.4,673.4 L772.0,675.9 L772.6,678.3 L773.2,680.7 L773.8,683.1 L774.4,685.5 L775.0,687.9 L775.6,690.3 L776.2,692.6 L776.8,694.9 L777.4,697.2 L778.0,699.5 L778.6,701.7 L779.2,703.9 L779.8,706.1 L780.4,708.2 L781.0,710.2 L781.6,712.2 L782.2,714.1 L782.8,715.9 L783.4,717.6 L784.0,719.2 L784.6,720.6 L785.2,722.0 L785.8,723.2 L786.4,724.3 L787.0,725.2 L787.6,726.0 L788.2,726.7 L788.8,727.2 L789.4,727.6 L790.0,728.0 L790.6,728.2 L791.2,728.4 L791.8,728.5 L792.4,728.5 L793.0,728.6 L793.6,728.6 L794.2,728.5 L794.8,728.4 L795.4,728.3 L796.0,728.1 L796.6,727.9 L797.2,727.5 L797.8,726.9 L798.4,726.2 L799.0,725.3 L799.6,724.1 L800.2,722.6 L800.8,720.7 L801.4,718.5 L802.0,715.8 L802.6,712.7 L803.2,709.2 L803.8,705.1 L804.4,700.6 L805.0,695.7 L805.6,690.3 L806.2,684.6 L806.8,678.5 L807.4,672.0 L808.0,665.4 L808.6,658.5 L809.2,651.6 L809.8,644.6 L810.4,637.6 L811.0,630.6 L811.6,623.9 L812.2,617.3 L812.8,610.9 L813.4,604.8 L814.0,598.9 L814.6,593.4 L815.2,588.1 L815.8,583.2 L816.4,578.5 L817.0,574.0 L817.6,569.8 L818.2,565.8 L818.8,561.9 L819.4,558.2 L820.0,554.5 L820.6,550.9 L821.2,547.4 L821.8,543.9 L822.4,540.4 L823.0,537.0 L823.6,533.5 L824.2,530.1 L824.8,526.8 L825.4,523.5 L826.0,520.4 L826.6,517.3 L827.2,514.5 L827.8,511.8 L828.4,509.4 L829.0,507.3 L829.6,505.4 L830.2,503.8 L830.8,502.5 L831.4,501.5 L832.0,500.8 L832.6,500.4 L833.2,500.3 L833.8,500.4 L834.4,500.8 L835.0,501.4 L835.6,502.3 L836.2,503.2 L836.8,504.3 L837.4,505.6 L838.0,506.9 L838.6,508.4 L839.2,509.9 L839.8,511.5 L840.4,513.1 L841.0,514.9 L841.6,516.7 L842.2,518.5 L842.8,520.5 L843.4,522.5 L844.0,524.7 L844.6,526.9 L845.2,529.2 L845.8,531.6 L846.4,534.1 L847.0,536.8 L847.6,539.5 L848.2,542.2 L848.8,545.0 L849.4,547.9 L850.0,550.8 L850.6,553.7 L851.2,556.5 L851.8,559.4 L852.4,562.2 L853.0,564.9 L853.6,567.6 L854.2,570.2 L854.8,572.7 L855.4,575.1 L856.0,577.5 L856.6,579.8 L857.2,582.1 L857.8,584.3 L858.4,586.5 L859.0,588.6 L859.6,590.8 L860.2,592.9 L860.8,595.1 L861.4,597.2 L862.0,599.4 L862.6,601.6 L863.2,603.8 L863.8,606.0 L864.4,608.2 L865.0,610.3 L865.6,612.5 L866.2,614.6 L866.8,616.6 L867.4,618.5 L868.0,620.4 L868.6,622.2 L869.2,623.8 L869.8,625.4 L870.4,626.8 L871.0,628.1 L871.6,629.3 L872.2,630.4 L872.8,631.4 L873.4,632.2 L874.0,633.0 L874.6,633.6 L875.2,634.2 L875.8,634.7 L876.4,635.1 L877.0,635.4 L877.6,635.6 L878.2,635.8 L878.8,635.8 L879.4,635.8 L880.0,635.7 L880.6,635.5 L881.2,635.1 L881.8,634.7 L882.4,634.2 L883.0,633.6 L883.6,632.8 L884.2,632.0 L884.8,631.1 L885.4,630.1 L886.0,629.0 L886.6,627.8 L887.2,626.7 L887.8,625.5 L888.4,624.3 L889.0,623.1 L889.6,621.9 L890.2,620.8 L890.8,619.8 L891.4,618.9 L892.0,618.0 L892.6,617.2 L893.2,616.5 L893.8,615.9 L894.4,615.3 L895.0,614.9 L895.6,614.5 L896.2,614.2 L896.8,613.9 L897.4,613.6 L898.0,613.4 L898.6,613.2 L899.2,613.0 L899.8,612.7 L900.4,612.5 L901.0,612.3 L901.6,612.0 L902.2,611.8 L902.8,611.6 L903.4,611.4 L904.0,611.2 L904.6,611.1 L905.2,611.0 L905.8,611.1 L906.4,611.2 L907.0,611.4 L907.6,611.8 L908.2,612.3 L908.8,612.9 L909.4,613.6 L910.0,614.5 L910.6,615.5 L911.2,616.6 L911.8,617.9 L912.4,619.3 L913.0,620.7 L913.6,622.3 L914.2,623.9 L914.8,625.6 L915.4,627.4 L916.0,629.2 L916.6,631.1 L917.2,633.0 L917.8,634.9 L918.4,636.8 L919.0,638.8 L919.6,640.8 L920.2,642.9 L920.8,645.0 L921.4,647.1 L922.0,649.3 L922.6,651.5 L923.2,653.7 L923.8,656.0 L924.4,658.3 L925.0,660.6 L925.6,663.0 L926.2,665.4 L926.8,667.8 L927.4,670.2 L928.0,672.6 L928.6,675.0 L929.2,677.5 L929.8,679.9 L930.4,682.3 L931.0,684.7 L931.6,687.1 L932.2,689.5 L932.8,691.8 L933.4,694.2 L934.0,696.5 L934.6,698.8 L935.2,701.0 L935.8,703.2 L936.4,705.4 L937.0,707.5 L937.6,709.6 L938.2,711.5 L938.8,713.5 L939.4,715.3 L940.0,717.0 L940.6,718.7 L941.2,720.2 L941.8,721.6 L942.4,722.8 L943.0,723.9 L943.6,724.9 L944.2,725.7 L944.8,726.4 L945.4,727.0 L946.0,727.5 L946.6,727.9 L947.2,728.1 L947.8,728.3 L948.4,728.4 L949.0,728.5 L949.6,728.6 L950.2,728.6 L950.8,728.5 L951.4,728.5 L952.0,728.4 L952.6,728.2 L953.2,728.0 L953.8,727.6 L954.4,727.1 L955.0,726.5 L955.6,725.6 L956.2,724.5 L956.8,723.1 L957.4,721.4 L958.0,719.3 L958.6,716.8 L959.2,713.8 L959.8,710.4 L960.4,706.5 L961.0,702.2 L961.6,697.4 L962.2,692.2 L962.8,686.5 L963.4,680.5 L964.0,674.2 L964.6,667.6 L965.2,660.8 L965.8,653.9 L966.4,646.9 L967.0,639.9 L967.6,632.9 L968.2,626.1 L968.8,619.4 L969.4,613.0 L970.0,606.8 L970.6,600.8 L971.2,595.2 L971.8,589.8 L972.4,584.8 L973.0,580.0 L973.6,575.5 L974.2,571.2 L974.8,567.1 L975.4,563.2 L976.0,559.4 L976.6,555.7 L977.2,552.1 L977.8,548.6 L978.4,545.1 L979.0,541.6 L979.6,538.1 L980.2,534.7 L980.8,531.2 L981.4,527.9 L982.0,524.6 L982.6,521.4 L983.2,518.3 L983.8,515.4 L984.4,512.7 L985.0,510.2 L985.6,508.0 L986.2,506.0 L986.8,504.3 L987.4,502.9 L988.0,501.8 L988.6,501.0 L989.2,500.5 L989.8,500.3 L990.4,500.4 L991.0,500.7 L991.6,501.2 L992.2,502.0 L992.8,502.9 L993.4,504.0 L994.0,505.2 L994.6,506.5 L995.2,507.9 L995.8,509.4 L996.0,509.9" fill="none" stroke="#1055a5" stroke-width="9.4" stroke-linejoin="round" clip-path="url(#clip)"/>
<line x1="203.3" y1="618.1" x2="988" y2="618.1" stroke="#a20613" stroke-width="8.8"/>
<path d="M190.5,478.5 L203.3,478.5 L203.3,762.8 L190.5,762.8 M190.5,620.65 L203.3,620.65" fill="none" stroke="#000" stroke-width="4.6" stroke-linejoin="round" stroke-linecap="round"/>
<path d="M196.0,950.2 L196.6,947.4 L197.2,944.8 L197.8,942.2 L198.4,939.8 L199.0,937.6 L199.6,935.5 L200.2,933.6 L200.8,931.9 L201.4,930.3 L202.0,928.9 L202.6,927.8 L203.2,926.8 L203.8,926.0 L204.4,925.4 L205.0,925.0 L205.6,924.8 L206.2,924.8 L206.8,924.9 L207.4,925.3 L208.0,925.7 L208.6,926.3 L209.2,927.1 L209.8,928.0 L210.4,929.0 L211.0,930.1 L211.6,931.4 L212.2,932.7 L212.8,934.2 L213.4,935.7 L214.0,937.4 L214.6,939.1 L215.2,940.9 L215.8,942.8 L216.4,944.8 L217.0,946.8 L217.6,948.9 L218.2,951.2 L218.8,953.4 L219.4,955.8 L220.0,958.2 L220.6,960.8 L221.2,963.3 L221.8,965.9 L222.4,968.6 L223.0,971.3 L223.6,974.1 L224.2,976.9 L224.8,979.7 L225.4,982.5 L226.0,985.3 L226.6,988.1 L227.2,990.8 L227.8,993.6 L228.4,996.3 L229.0,998.9 L229.6,1001.5 L230.2,1004.0 L230.8,1006.5 L231.4,1008.9 L232.0,1011.2 L232.6,1013.5 L233.2,1015.7 L233.8,1017.8 L234.4,1019.9 L235.0,1021.9 L235.6,1023.8 L236.2,1025.7 L236.8,1027.6 L237.4,1029.4 L238.0,1031.2 L238.6,1032.9 L239.2,1034.6 L239.8,1036.2 L240.4,1037.8 L241.0,1039.4 L241.6,1040.9 L242.2,1042.4 L242.8,1043.8 L243.4,1045.1 L244.0,1046.4 L244.6,1047.6 L245.2,1048.7 L245.8,1049.6 L246.4,1050.5 L247.0,1051.2 L247.6,1051.7 L248.2,1052.1 L248.8,1052.4 L249.4,1052.4 L250.0,1052.3 L250.6,1052.0 L251.2,1051.4 L251.8,1050.7 L252.4,1049.8 L253.0,1048.7 L253.6,1047.4 L254.2,1046.0 L254.8,1044.3 L255.4,1042.5 L256.0,1040.5 L256.6,1038.4 L257.2,1036.2 L257.8,1033.8 L258.4,1031.3 L259.0,1028.7 L259.6,1026.0 L260.2,1023.2 L260.8,1020.4 L261.4,1017.5 L262.0,1014.6 L262.6,1011.6 L263.2,1008.5 L263.8,1005.4 L264.4,1002.3 L265.0,999.2 L265.6,996.0 L266.2,992.9 L266.8,989.7 L267.4,986.4 L268.0,983.2 L268.6,980.0 L269.2,976.8 L269.8,973.6 L270.4,970.4 L271.0,967.2 L271.6,964.0 L272.2,960.9 L272.8,957.9 L273.4,954.9 L274.0,952.0 L274.6,949.1 L275.2,946.4 L275.8,943.8 L276.4,941.3 L277.0,939.0 L277.6,936.8 L278.2,934.8 L278.8,932.9 L279.4,931.3 L280.0,929.8 L280.6,928.5 L281.2,927.4 L281.8,926.5 L282.4,925.8 L283.0,925.3 L283.6,924.9 L284.2,924.8 L284.8,924.8 L285.4,925.0 L286.0,925.4 L286.6,925.9 L287.2,926.6 L287.8,927.4 L288.4,928.4 L289.0,929.4 L289.6,930.6 L290.2,931.9 L290.8,933.3 L291.4,934.7 L292.0,936.3 L292.6,938.0 L293.2,939.7 L293.8,941.6 L294.4,943.5 L295.0,945.5 L295.6,947.6 L296.2,949.8 L296.8,952.0 L297.4,954.3 L298.0,956.7 L298.6,959.2 L299.2,961.7 L299.8,964.3 L300.4,966.9 L301.0,969.6 L301.6,972.4 L302.2,975.1 L302.8,977.9 L303.4,980.7 L304.0,983.5 L304.6,986.3 L305.2,989.1 L305.8,991.9 L306.4,994.6 L307.0,997.3 L307.6,999.9 L308.2,1002.5 L308.8,1005.0 L309.4,1007.4 L310.0,1009.8 L310.6,1012.1 L311.2,1014.3 L311.8,1016.5 L312.4,1018.6 L313.0,1020.6 L313.6,1022.6 L314.2,1024.6 L314.8,1026.4 L315.4,1028.3 L316.0,1030.1 L316.6,1031.8 L317.2,1033.5 L317.8,1035.2 L318.4,1036.8 L319.0,1038.4 L319.6,1040.0 L320.2,1041.5 L320.8,1042.9 L321.4,1044.3 L322.0,1045.6 L322.6,1046.9 L323.2,1048.0 L323.8,1049.0 L324.4,1050.0 L325.0,1050.8 L325.6,1051.4 L326.2,1051.9 L326.8,1052.2 L327.4,1052.4 L328.0,1052.4 L328.6,1052.2 L329.2,1051.8 L329.8,1051.2 L330.4,1050.4 L331.0,1049.4 L331.6,1048.3 L332.2,1046.9 L332.8,1045.4 L333.4,1043.7 L334.0,1041.8 L334.6,1039.8 L335.2,1037.6 L335.8,1035.3 L336.4,1032.9 L337.0,1030.3 L337.6,1027.7 L338.2,1025.0 L338.8,1022.2 L339.4,1019.3 L340.0,1016.4 L340.6,1013.4 L341.2,1010.4 L341.8,1007.4 L342.4,1004.3 L343.0,1001.2 L343.6,998.0 L344.2,994.8 L344.8,991.7 L345.4,988.5 L346.0,985.2 L346.6,982.0 L347.2,978.8 L347.8,975.6 L348.4,972.4 L349.0,969.2 L349.6,966.0 L350.2,962.9 L350.8,959.8 L351.4,956.7 L352.0,953.8 L352.6,950.9 L353.2,948.1 L353.8,945.4 L354.4,942.9 L355.0,940.4 L355.6,938.1 L356.2,936.0 L356.8,934.1 L357.4,932.3 L358.0,930.7 L358.6,929.3 L359.2,928.1 L359.8,927.0 L360.4,926.2 L361.0,925.6 L361.6,925.1 L362.2,924.9 L362.8,924.8 L363.4,924.9 L364.0,925.2 L364.6,925.6 L365.2,926.2 L365.8,926.9 L366.4,927.8 L367.0,928.7 L367.6,929.8 L368.2,931.1 L368.8,932.4 L369.4,933.8 L370.0,935.3 L370.6,936.9 L371.2,938.6 L371.8,940.4 L372.4,942.3 L373.0,944.3 L373.6,946.3 L374.2,948.4 L374.8,950.6 L375.4,952.9 L376.0,955.2 L376.6,957.6 L377.2,960.1 L377.8,962.7 L378.4,965.3 L379.0,967.9 L379.6,970.7 L380.2,973.4 L380.8,976.2 L381.4,979.0 L382.0,981.8 L382.6,984.6 L383.2,987.4 L383.8,990.1 L384.4,992.9 L385.0,995.6 L385.6,998.3 L386.2,1000.9 L386.8,1003.4 L387.4,1005.9 L388.0,1008.3 L388.6,1010.7 L389.2,1012.9 L389.8,1015.2 L390.4,1017.3 L391.0,1019.4 L391.6,1021.4 L392.2,1023.4 L392.8,1025.3 L393.4,1027.1 L394.0,1028.9 L394.6,1030.7 L395.2,1032.4 L395.8,1034.1 L396.4,1035.8 L397.0,1037.4 L397.6,1039.0 L398.2,1040.5 L398.8,1042.0 L399.4,1043.5 L400.0,1044.8 L400.6,1046.1 L401.2,1047.3 L401.8,1048.4 L402.4,1049.4 L403.0,1050.3 L403.6,1051.0 L404.2,1051.6 L404.8,1052.0 L405.4,1052.3 L406.0,1052.4 L406.6,1052.3 L407.2,1052.1 L407.8,1051.6 L408.4,1050.9 L409.0,1050.1 L409.6,1049.0 L410.2,1047.8 L410.8,1046.3 L411.4,1044.7 L412.0,1043.0 L412.6,1041.0 L413.2,1039.0 L413.8,1036.7 L414.4,1034.4 L415.0,1031.9 L415.6,1029.4 L416.2,1026.7 L416.8,1023.9 L417.4,1021.1 L418.0,1018.2 L418.6,1015.3 L419.2,1012.3 L419.8,1009.3 L420.4,1006.2 L421.0,1003.1 L421.6,1000.0 L422.2,996.8 L422.8,993.7 L423.4,990.5 L424.0,987.3 L424.6,984.0 L425.2,980.8 L425.8,977.6 L426.4,974.4 L427.0,971.2 L427.6,968.0 L428.2,964.8 L428.8,961.7 L429.4,958.6 L430.0,955.6 L430.6,952.7 L431.2,949.8 L431.8,947.1 L432.4,944.4 L433.0,941.9 L433.6,939.6 L434.2,937.3 L434.8,935.3 L435.4,933.4 L436.0,931.7 L436.6,930.1 L437.2,928.8 L437.8,927.6 L438.4,926.7 L439.0,925.9 L439.6,925.4 L440.2,925.0 L440.8,924.8 L441.4,924.8 L442.0,925.0 L442.6,925.3 L443.2,925.8 L443.8,926.4 L444.4,927.2 L445.0,928.1 L445.6,929.1 L446.2,930.3 L446.8,931.5 L447.4,932.9 L448.0,934.4 L448.6,935.9 L449.2,937.6 L449.8,939.3 L450.4,941.1 L451.0,943.0 L451.6,945.0 L452.2,947.1 L452.8,949.2 L453.4,951.4 L454.0,953.7 L454.6,956.1 L455.2,958.6 L455.8,961.1 L456.4,963.6 L457.0,966.3 L457.6,969.0 L458.2,971.7 L458.8,974.4 L459.4,977.2 L460.0,980.0 L460.6,982.8 L461.2,985.6 L461.8,988.4 L462.4,991.2 L463.0,993.9 L463.6,996.6 L464.2,999.2 L464.8,1001.8 L465.4,1004.3 L466.0,1006.8 L466.6,1009.2 L467.2,1011.5 L467.8,1013.8 L468.4,1016.0 L469.0,1018.1 L469.6,1020.1 L470.2,1022.1 L470.8,1024.1 L471.4,1026.0 L472.0,1027.8 L472.6,1029.6 L473.2,1031.4 L473.8,1033.1 L474.4,1034.8 L475.0,1036.4 L475.6,1038.0 L476.2,1039.6 L476.8,1041.1 L477.4,1042.6 L478.0,1044.0 L478.6,1045.3 L479.2,1046.6 L479.8,1047.7 L480.4,1048.8 L481.0,1049.7 L481.6,1050.6 L482.2,1051.3 L482.8,1051.8 L483.4,1052.2 L484.0,1052.4 L484.6,1052.4 L485.2,1052.2 L485.8,1051.9 L486.4,1051.4 L487.0,1050.6 L487.6,1049.7 L488.2,1048.6 L488.8,1047.3 L489.4,1045.8 L490.0,1044.1 L490.6,1042.3 L491.2,1040.3 L491.8,1038.1 L492.4,1035.9 L493.0,1033.5 L493.6,1031.0 L494.2,1028.4 L494.8,1025.7 L495.4,1022.9 L496.0,1020.0 L496.6,1017.1 L497.2,1014.2 L497.8,1011.2 L498.4,1008.1 L499.0,1005.1 L499.6,1001.9 L500.2,998.8 L500.8,995.6 L501.4,992.5 L502.0,989.3 L502.6,986.0 L503.2,982.8 L503.8,979.6 L504.4,976.4 L505.0,973.2 L505.6,970.0 L506.2,966.8 L506.8,963.6 L507.4,960.5 L508.0,957.5 L508.6,954.5 L509.2,951.6 L509.8,948.8 L510.4,946.1 L511.0,943.5 L511.6,941.0 L512.2,938.7 L512.8,936.5 L513.4,934.5 L514.0,932.7 L514.6,931.1 L515.2,929.6 L515.8,928.3 L516.4,927.3 L517.0,926.4 L517.6,925.7 L518.2,925.2 L518.8,924.9 L519.4,924.8 L520.0,924.8 L520.6,925.1 L521.2,925.5 L521.8,926.0 L522.4,926.7 L523.0,927.5 L523.6,928.5 L524.2,929.6 L524.8,930.7 L525.4,932.0 L526.0,933.4 L526.6,934.9 L527.2,936.5 L527.8,938.2 L528.4,940.0 L529.0,941.8 L529.6,943.8 L530.2,945.8 L530.8,947.9 L531.4,950.0 L532.0,952.3 L532.6,954.6 L533.2,957.0 L533.8,959.5 L534.4,962.0 L535.0,964.6 L535.6,967.3 L536.2,970.0 L536.8,972.7 L537.4,975.5 L538.0,978.3 L538.6,981.1 L539.2,983.9 L539.8,986.7 L540.4,989.5 L541.0,992.2 L541.6,994.9 L542.2,997.6 L542.8,1000.2 L543.4,1002.8 L544.0,1005.3 L544.6,1007.7 L545.2,1010.1 L545.8,1012.4 L546.4,1014.6 L547.0,1016.8 L547.6,1018.9 L548.2,1020.9 L548.8,1022.9 L549.4,1024.8 L550.0,1026.7 L550.6,1028.5 L551.2,1030.3 L551.8,1032.0 L552.4,1033.7 L553.0,1035.4 L553.6,1037.0 L554.2,1038.6 L554.8,1040.2 L555.4,1041.7 L556.0,1043.1 L556.6,1044.5 L557.2,1045.8 L557.8,1047.0 L558.4,1048.1 L559.0,1049.2 L559.6,1050.1 L560.2,1050.8 L560.8,1051.5 L561.4,1052.0 L562.0,1052.3 L562.6,1052.4 L563.2,1052.4 L563.8,1052.1 L564.4,1051.7 L565.0,1051.1 L565.6,1050.3 L566.2,1049.3 L566.8,1048.1 L567.4,1046.7 L568.0,1045.2 L568.6,1043.4 L569.2,1041.5 L569.8,1039.5 L570.4,1037.3 L571.0,1035.0 L571.6,1032.5 L572.2,1030.0 L572.8,1027.4 L573.4,1024.6 L574.0,1021.8 L574.6,1019.0 L575.2,1016.0 L575.8,1013.1 L576.4,1010.0 L577.0,1007.0 L577.6,1003.9 L578.2,1000.8 L578.8,997.6 L579.4,994.4 L580.0,991.3 L580.6,988.1 L581.2,984.8 L581.8,981.6 L582.4,978.4 L583.0,975.2 L583.6,972.0 L584.2,968.8 L584.8,965.6 L585.4,962.5 L586.0,959.4 L586.6,956.4 L587.2,953.4 L587.8,950.5 L588.4,947.8 L589.0,945.1 L589.6,942.5 L590.2,940.1 L590.8,937.9 L591.4,935.8 L592.0,933.8 L592.6,932.1 L593.2,930.5 L593.8,929.1 L594.4,927.9 L595.0,926.9 L595.6,926.1 L596.2,925.5 L596.8,925.1 L597.4,924.8 L598.0,924.8 L598.6,924.9 L599.2,925.2 L599.8,925.7 L600.4,926.3 L601.0,927.0 L601.6,927.9 L602.2,928.9 L602.8,930.0 L603.4,931.2 L604.0,932.6 L604.6,934.0 L605.2,935.5 L605.8,937.1 L606.4,938.9 L607.0,940.7 L607.6,942.5 L608.2,944.5 L608.8,946.5 L609.4,948.7 L610.0,950.9 L610.6,953.2 L611.2,955.5 L611.8,957.9 L612.4,960.4 L613.0,963.0 L613.6,965.6 L614.2,968.3 L614.8,971.0 L615.4,973.7 L616.0,976.5 L616.6,979.3 L617.2,982.1 L617.8,984.9 L618.4,987.7 L619.0,990.5 L619.6,993.2 L620.2,995.9 L620.8,998.6 L621.4,1001.2 L622.0,1003.7 L622.6,1006.2 L623.2,1008.6 L623.8,1010.9 L624.4,1013.2 L625.0,1015.4 L625.6,1017.6 L626.2,1019.6 L626.8,1021.6 L627.4,1023.6 L628.0,1025.5 L628.6,1027.4 L629.2,1029.2 L629.8,1030.9 L630.4,1032.7 L631.0,1034.4 L631.6,1036.0 L632.2,1037.6 L632.8,1039.2 L633.4,1040.7 L634.0,1042.2 L634.6,1043.6 L635.2,1045.0 L635.8,1046.3 L636.4,1047.4 L637.0,1048.5 L637.6,1049.5 L638.2,1050.4 L638.8,1051.1 L639.4,1051.7 L640.0,1052.1 L640.6,1052.3 L641.2,1052.4 L641.8,1052.3 L642.4,1052.0 L643.0,1051.5 L643.6,1050.8 L644.2,1049.9 L644.8,1048.9 L645.4,1047.6 L646.0,1046.2 L646.6,1044.5 L647.2,1042.7 L647.8,1040.8 L648.4,1038.7 L649.0,1036.4 L649.6,1034.1 L650.2,1031.6 L650.8,1029.0 L651.4,1026.4 L652.0,1023.6 L652.6,1020.8 L653.2,1017.9 L653.8,1014.9 L654.4,1011.9 L655.0,1008.9 L655.6,1005.8 L656.2,1002.7 L656.8,999.6 L657.4,996.4 L658.0,993.3 L658.6,990.1 L659.2,986.8 L659.8,983.6 L660.4,980.4 L661.0,977.2 L661.6,974.0 L662.2,970.8 L662.8,967.6 L663.4,964.4 L664.0,961.3 L664.6,958.2 L665.2,955.2 L665.8,952.3 L666.4,949.5 L667.0,946.7 L667.6,944.1 L668.2,941.6 L668.8,939.3 L669.4,937.1 L670.0,935.0 L670.6,933.1 L671.2,931.5 L671.8,930.0 L672.4,928.6 L673.0,927.5 L673.6,926.6 L674.2,925.9 L674.8,925.3 L675.4,925.0 L676.0,924.8 L676.6,924.8 L677.2,925.0 L677.8,925.4 L678.4,925.9 L679.0,926.5 L679.6,927.3 L680.2,928.2 L680.8,929.3 L681.4,930.4 L682.0,931.7 L682.6,933.1 L683.2,934.6 L683.8,936.1 L684.4,937.8 L685.0,939.5 L685.6,941.4 L686.2,943.3 L686.8,945.3 L687.4,947.3 L688.0,949.5 L688.6,951.7 L689.2,954.0 L689.8,956.4 L690.4,958.9 L691.0,961.4 L691.6,964.0 L692.2,966.6 L692.8,969.3 L693.4,972.0 L694.0,974.8 L694.6,977.6 L695.2,980.4 L695.8,983.2 L696.4,986.0 L697.0,988.8 L697.6,991.5 L698.2,994.2 L698.8,996.9 L699.4,999.6 L700.0,1002.1 L700.6,1004.7 L701.2,1007.1 L701.8,1009.5 L702.4,1011.8 L703.0,1014.1 L703.6,1016.2 L704.2,1018.3 L704.8,1020.4 L705.4,1022.4 L706.0,1024.3 L706.6,1026.2 L707.2,1028.0 L707.8,1029.8 L708.4,1031.6 L709.0,1033.3 L709.6,1035.0 L710.2,1036.6 L710.8,1038.2 L711.4,1039.8 L712.0,1041.3 L712.6,1042.7 L713.2,1044.1 L713.8,1045.5 L714.4,1046.7 L715.0,1047.9 L715.6,1048.9 L716.2,1049.9 L716.8,1050.7 L717.4,1051.3 L718.0,1051.9 L718.6,1052.2 L719.2,1052.4 L719.8,1052.4 L720.4,1052.2 L721.0,1051.8 L721.6,1051.3 L722.2,1050.5 L722.8,1049.6 L723.4,1048.4 L724.0,1047.1 L724.6,1045.6 L725.2,1043.9 L725.8,1042.0 L726.4,1040.0 L727.0,1037.9 L727.6,1035.6 L728.2,1033.2 L728.8,1030.6 L729.4,1028.0 L730.0,1025.3 L730.6,1022.5 L731.2,1019.7 L731.8,1016.8 L732.4,1013.8 L733.0,1010.8 L733.6,1007.8 L734.2,1004.7 L734.8,1001.5 L735.4,998.4 L736.0,995.2 L736.6,992.1 L737.2,988.9 L737.8,985.6 L738.4,982.4 L739.0,979.2 L739.6,976.0 L740.2,972.8 L740.8,969.6 L741.4,966.4 L742.0,963.2 L742.6,960.1 L743.2,957.1 L743.8,954.1 L744.4,951.2 L745.0,948.4 L745.6,945.7 L746.2,943.2 L746.8,940.7 L747.4,938.4 L748.0,936.3 L748.6,934.3 L749.2,932.5 L749.8,930.9 L750.4,929.4 L751.0,928.2 L751.6,927.1 L752.2,926.3 L752.8,925.6 L753.4,925.2 L754.0,924.9 L754.6,924.8 L755.2,924.9 L755.8,925.1 L756.4,925.5 L757.0,926.1 L757.6,926.8 L758.2,927.6 L758.8,928.6 L759.4,929.7 L760.0,930.9 L760.6,932.2 L761.2,933.6 L761.8,935.1 L762.4,936.7 L763.0,938.4 L763.6,940.2 L764.2,942.1 L764.8,944.0 L765.4,946.0 L766.0,948.1 L766.6,950.3 L767.2,952.6 L767.8,954.9 L768.4,957.3 L769.0,959.8 L769.6,962.4 L770.2,965.0 L770.8,967.6 L771.4,970.3 L772.0,973.1 L772.6,975.8 L773.2,978.6 L773.8,981.4 L774.4,984.2 L775.0,987.0 L775.6,989.8 L776.2,992.5 L776.8,995.3 L777.4,997.9 L778.0,1000.5 L778.6,1003.1 L779.2,1005.6 L779.8,1008.0 L780.4,1010.4 L781.0,1012.7 L781.6,1014.9 L782.2,1017.0 L782.8,1019.1 L783.4,1021.1 L784.0,1023.1 L784.6,1025.0 L785.2,1026.9 L785.8,1028.7 L786.4,1030.5 L787.0,1032.2 L787.6,1033.9 L788.2,1035.6 L788.8,1037.2 L789.4,1038.8 L790.0,1040.4 L790.6,1041.8 L791.2,1043.3 L791.8,1044.7 L792.4,1045.9 L793.0,1047.2 L793.6,1048.3 L794.2,1049.3 L794.8,1050.2 L795.4,1050.9 L796.0,1051.5 L796.6,1052.0 L797.2,1052.3 L797.8,1052.4 L798.4,1052.4 L799.0,1052.1 L799.6,1051.7 L800.2,1051.0 L800.8,1050.2 L801.4,1049.2 L802.0,1047.9 L802.6,1046.5 L803.2,1045.0 L803.8,1043.2 L804.4,1041.3 L805.0,1039.2 L805.6,1037.0 L806.2,1034.7 L806.8,1032.2 L807.4,1029.7 L808.0,1027.0 L808.6,1024.3 L809.2,1021.5 L809.8,1018.6 L810.4,1015.7 L811.0,1012.7 L811.6,1009.7 L812.2,1006.6 L812.8,1003.5 L813.4,1000.4 L814.0,997.2 L814.6,994.1 L815.2,990.9 L815.8,987.7 L816.4,984.4 L817.0,981.2 L817.6,978.0 L818.2,974.8 L818.8,971.6 L819.4,968.4 L820.0,965.2 L820.6,962.1 L821.2,959.0 L821.8,956.0 L822.4,953.0 L823.0,950.2 L823.6,947.4 L824.2,944.8 L824.8,942.2 L825.4,939.8 L826.0,937.6 L826.6,935.5 L827.2,933.6 L827.8,931.9 L828.4,930.3 L829.0,928.9 L829.6,927.8 L830.2,926.8 L830.8,926.0 L831.4,925.4 L832.0,925.0 L832.6,924.8 L833.2,924.8 L833.8,924.9 L834.4,925.3 L835.0,925.7 L835.6,926.3 L836.2,927.1 L836.8,928.0 L837.4,929.0 L838.0,930.1 L838.6,931.4 L839.2,932.7 L839.8,934.2 L840.4,935.7 L841.0,937.4 L841.6,939.1 L842.2,940.9 L842.8,942.8 L843.4,944.8 L844.0,946.8 L844.6,948.9 L845.2,951.2 L845.8,953.4 L846.4,955.8 L847.0,958.2 L847.6,960.8 L848.2,963.3 L848.8,965.9 L849.4,968.6 L850.0,971.3 L850.6,974.1 L851.2,976.9 L851.8,979.7 L852.4,982.5 L853.0,985.3 L853.6,988.1 L854.2,990.8 L854.8,993.6 L855.4,996.3 L856.0,998.9 L856.6,1001.5 L857.2,1004.0 L857.8,1006.5 L858.4,1008.9 L859.0,1011.2 L859.6,1013.5 L860.2,1015.7 L860.8,1017.8 L861.4,1019.9 L862.0,1021.9 L862.6,1023.8 L863.2,1025.7 L863.8,1027.6 L864.4,1029.4 L865.0,1031.2 L865.6,1032.9 L866.2,1034.6 L866.8,1036.2 L867.4,1037.8 L868.0,1039.4 L868.6,1040.9 L869.2,1042.4 L869.8,1043.8 L870.4,1045.1 L871.0,1046.4 L871.6,1047.6 L872.2,1048.7 L872.8,1049.6 L873.4,1050.5 L874.0,1051.2 L874.6,1051.7 L875.2,1052.1 L875.8,1052.4 L876.4,1052.4 L877.0,1052.3 L877.6,1052.0 L878.2,1051.4 L878.8,1050.7 L879.4,1049.8 L880.0,1048.7 L880.6,1047.4 L881.2,1046.0 L881.8,1044.3 L882.4,1042.5 L883.0,1040.5 L883.6,1038.4 L884.2,1036.2 L884.8,1033.8 L885.4,1031.3 L886.0,1028.7 L886.6,1026.0 L887.2,1023.2 L887.8,1020.4 L888.4,1017.5 L889.0,1014.6 L889.6,1011.6 L890.2,1008.5 L890.8,1005.4 L891.4,1002.3 L892.0,999.2 L892.6,996.0 L893.2,992.9 L893.8,989.7 L894.4,986.4 L895.0,983.2 L895.6,980.0 L896.2,976.8 L896.8,973.6 L897.4,970.4 L898.0,967.2 L898.6,964.0 L899.2,960.9 L899.8,957.9 L900.4,954.9 L901.0,952.0 L901.6,949.1 L902.2,946.4 L902.8,943.8 L903.4,941.3 L904.0,939.0 L904.6,936.8 L905.2,934.8 L905.8,932.9 L906.4,931.3 L907.0,929.8 L907.6,928.5 L908.2,927.4 L908.8,926.5 L909.4,925.8 L910.0,925.3 L910.6,924.9 L911.2,924.8 L911.8,924.8 L912.4,925.0 L913.0,925.4 L913.6,925.9 L914.2,926.6 L914.8,927.4 L915.4,928.4 L916.0,929.4 L916.6,930.6 L917.2,931.9 L917.8,933.3 L918.4,934.7 L919.0,936.3 L919.6,938.0 L920.2,939.7 L920.8,941.6 L921.4,943.5 L922.0,945.5 L922.6,947.6 L923.2,949.8 L923.8,952.0 L924.4,954.3 L925.0,956.7 L925.6,959.2 L926.2,961.7 L926.8,964.3 L927.4,966.9 L928.0,969.6 L928.6,972.4 L929.2,975.1 L929.8,977.9 L930.4,980.7 L931.0,983.5 L931.6,986.3 L932.2,989.1 L932.8,991.9 L933.4,994.6 L934.0,997.3 L934.6,999.9 L935.2,1002.5 L935.8,1005.0 L936.4,1007.4 L937.0,1009.8 L937.6,1012.1 L938.2,1014.3 L938.8,1016.5 L939.4,1018.6 L940.0,1020.6 L940.6,1022.6 L941.2,1024.6 L941.8,1026.4 L942.4,1028.3 L943.0,1030.1 L943.6,1031.8 L944.2,1033.5 L944.8,1035.2 L945.4,1036.8 L946.0,1038.4 L946.6,1040.0 L947.2,1041.5 L947.8,1042.9 L948.4,1044.3 L949.0,1045.6 L949.6,1046.9 L950.2,1048.0 L950.8,1049.0 L951.4,1050.0 L952.0,1050.8 L952.6,1051.4 L953.2,1051.9 L953.8,1052.2 L954.4,1052.4 L955.0,1052.4 L955.6,1052.2 L956.2,1051.8 L956.8,1051.2 L957.4,1050.4 L958.0,1049.4 L958.6,1048.3 L959.2,1046.9 L959.8,1045.4 L960.4,1043.7 L961.0,1041.8 L961.6,1039.8 L962.2,1037.6 L962.8,1035.3 L963.4,1032.9 L964.0,1030.3 L964.6,1027.7 L965.2,1025.0 L965.8,1022.2 L966.4,1019.3 L967.0,1016.4 L967.6,1013.4 L968.2,1010.4 L968.8,1007.4 L969.4,1004.3 L970.0,1001.2 L970.6,998.0 L971.2,994.8 L971.8,991.7 L972.4,988.5 L973.0,985.2 L973.6,982.0 L974.2,978.8 L974.8,975.6 L975.4,972.4 L976.0,969.2 L976.6,966.0 L977.2,962.9 L977.8,959.8 L978.4,956.7 L979.0,953.8 L979.6,950.9 L980.2,948.1 L980.8,945.4 L981.4,942.9 L982.0,940.4 L982.6,938.1 L983.2,936.0 L983.8,934.1 L984.4,932.3 L985.0,930.7 L985.6,929.3 L986.2,928.1 L986.8,927.0 L987.4,926.2 L988.0,925.6 L988.6,925.1 L989.2,924.9 L989.8,924.8 L990.4,924.9 L991.0,925.2 L991.6,925.6 L992.2,926.2 L992.8,926.9 L993.4,927.8 L994.0,928.7 L994.6,929.8 L995.2,931.1 L995.8,932.4 L996.0,932.8" fill="none" stroke="#1055a5" stroke-width="9.4" stroke-linejoin="round" clip-path="url(#clip)"/>
<line x1="203.3" y1="986.7" x2="988" y2="986.7" stroke="#a20613" stroke-width="8.8"/>
<path d="M190.5,847.3 L203.3,847.3 L203.3,1131.5 L190.5,1131.5 M190.5,989.40 L203.3,989.40" fill="none" stroke="#000" stroke-width="4.6" stroke-linejoin="round" stroke-linecap="round"/>
<path d="M203.3,1159.3 L203.3,1142.9 L986.4,1142.9 L986.4,1159.3 M358.5,1142.9 L358.5,1159.3 M518.9,1142.9 L518.9,1159.3 M675.0,1142.9 L675.0,1159.3 M830.6,1142.9 L830.6,1159.3" fill="none" stroke="#000" stroke-width="4.6" stroke-linejoin="round" stroke-linecap="round"/>
<text id="PSM" x="806.00" y="49.80" font-size="48" style="fill:#1a4d94;stroke:#1a4d94">PSM</text>
<text id="STPSM" x="806.10" y="121.50" font-size="48" style="fill:#9a0f1c;stroke:#9a0f1c">ST-PSM</text>
<text id="a04" x="157.60" y="131.10" font-size="47" text-anchor="end">0.4</text>
<text id="a00" x="157.90" y="270.00" font-size="47" text-anchor="end">0.0</text>
<text id="a-04" x="157.60" y="404.60" font-size="47" text-anchor="end">-0.4</text>
<text id="b04" x="157.80" y="500.80" font-size="47" text-anchor="end">0.4</text>
<text id="b00" x="157.80" y="639.30" font-size="47" text-anchor="end">0.0</text>
<text id="b-04" x="157.60" y="774.30" font-size="47" text-anchor="end">-0.4</text>
<text id="c04" x="157.80" y="869.10" font-size="47" text-anchor="end">0.4</text>
<text id="c00" x="157.80" y="1008.40" font-size="47" text-anchor="end">0.0</text>
<text id="c-04" x="157.60" y="1142.50" font-size="47" text-anchor="end">-0.4</text>
<text id="titleA" x="234.90" y="133.70" font-size="42">Background + amplitude</text>
<text id="titleB" x="238.70" y="476.70" font-size="42.3">Background + phase-shifting</text>
<text id="titleC" x="235.00" y="868.00" font-size="42">Amplitude + phase-shifting</text>
<text id="la" x="587.30" y="414.50" font-size="51" text-anchor="middle">(a)</text>
<text id="lb" x="587.30" y="775.40" font-size="51" text-anchor="middle">(b)</text>
<text id="lc" x="585.90" y="1342.30" font-size="51" text-anchor="middle">(c)</text>
<text id="ylabA" transform="translate(49.10,427.50) rotate(-90)" font-size="47">Phase error [rad]</text>
<text id="ylabB" transform="translate(49.30,808.40) rotate(-90)" font-size="47">Phase error [rad]</text>
<text id="ylabC" transform="translate(49.10,1183.10) rotate(-90)" font-size="47">Phase error [rad]</text>
<text id="x100" x="199.20" y="1222.30" font-size="47" text-anchor="middle">100</text>
<text id="x110" x="355.52" y="1222.90" font-size="47" text-anchor="middle">110</text>
<text id="x120" x="511.94" y="1222.90" font-size="47" text-anchor="middle">120</text>
<text id="x130" x="669.56" y="1222.90" font-size="47" text-anchor="middle">130</text>
<text id="x140" x="824.88" y="1223.10" font-size="47" text-anchor="middle">140</text>
<text id="x150" x="982.00" y="1223.10" font-size="47" text-anchor="middle">150</text>
<text id="xt1" x="414.40" y="1286.60" font-size="46.7">Position,</text>
<text id="xt2" transform="translate(609.20,1287.80) scale(1.17,1)" font-size="48" font-style="italic" stroke="#000" stroke-width="0.8">x</text>
<text id="xt3" x="655.05" y="1286.35" font-size="46.6">[Pixel]</text>
</g></svg>
</body></html>
